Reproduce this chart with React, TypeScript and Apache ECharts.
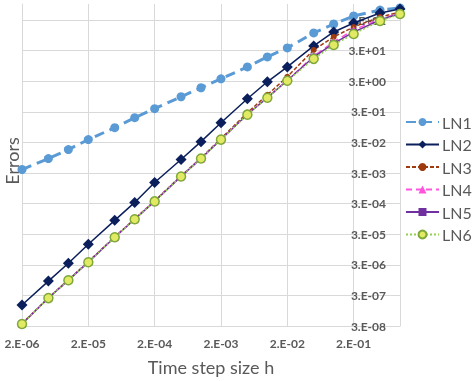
import React, { useEffect, useRef } from "react";
import * as echarts from "echarts";

// Time step sizes h
const hValues = [2e-6, 5e-6, 1e-5, 2e-5, 5e-5, 1e-4, 2e-4, 5e-4, 1e-3, 2e-3, 5e-3, 1e-2, 2e-2, 5e-2, 0.1, 0.2, 0.5, 1];

// Errors per series
const LN1 = [3.9e-3, 8.9e-3, 1.75e-2, 3.7e-2, 9.1e-2, 0.193, 0.379, 0.93, 1.83, 3.59, 8.8, 18.7, 36.7, 113, 222, 405, 635, 740];
const LN2 = [1.45e-7, 8.8e-7, 3.38e-6, 1.41e-5, 8.5e-5, 3.28e-4, 1.47e-3, 8.3e-3, 3.18e-2, 0.132, 0.8, 2.87, 8.8, 42.7, 122, 239, 507, 684];
const LN3 = [3.6e-8, 2.5e-7, 9.7e-7, 3.8e-6, 2.45e-5, 9.5e-5, 3.7e-4, 2.4e-3, 9.3e-3, 4.0e-2, 0.28, 1.08, 4.2, 31.6, 84, 177, 376, 546];
const LN4 = [3.5e-8, 2.47e-7, 9.5e-7, 3.7e-6, 2.4e-5, 9.3e-5, 3.58e-4, 2.34e-3, 9.0e-3, 3.75e-2, 0.25, 0.88, 3.2, 20, 58, 142, 323, 507];
const LN5 = [3.49e-8, 2.46e-7, 9.45e-7, 3.66e-6, 2.39e-5, 9.25e-5, 3.56e-4, 2.32e-3, 8.95e-3, 3.72e-2, 0.245, 0.87, 3.15, 18.5, 52, 120, 300, 490];
const LN6 = [3.48e-8, 2.45e-7, 9.4e-7, 3.65e-6, 2.38e-5, 9.2e-5, 3.54e-4, 2.31e-3, 8.9e-3, 3.7e-2, 0.242, 0.863, 3.09, 16.1, 46, 105, 278, 470];

// Axis extents (log axes, drawn as decades from the first tick)
const H_FIRST_TICK = 2e-6;
const H_MAX = 1;
const E_FIRST_TICK = 3e-8;
const E_MAX = 1000;

const FONT = "Lato, 'Open Sans', sans-serif";

const toX = (h: number) => Math.log10(h / H_FIRST_TICK);
const toY = (e: number) => Math.log10(e / E_FIRST_TICK);

const fmtExp = (mant: string, offset: number) => (v: number) => {
  const r = Math.round(v);
  if (Math.abs(v - r) > 1e-6) return "";
  const e = r + offset;
  return mant + ".E" + (e < 0 ? "-" : "+") + String(Math.abs(e)).padStart(2, "0");
};

const mk = (vals: number[]) => hValues.map((h, i) => [toX(h), toY(vals[i])]);

export default function App() {
  const ref = useRef<HTMLDivElement>(null);
  useEffect(() => {
    if (!ref.current) return;
    const chart = echarts.init(ref.current, null, { renderer: "svg" });
    const grid = "#D9D9D9";
    chart.setOption({
      animation: false,
      grid: { left: 22, right: 74, top: 4, bottom: 54 },
      xAxis: {
        type: "value",
        min: 0,
        max: toX(H_MAX),
        interval: 1,
        name: "Time step size h",
        nameLocation: "middle",
        nameGap: 32,
        nameTextStyle: { fontSize: 18, color: "#595959", fontFamily: FONT },
        axisLine: { show: true, lineStyle: { color: grid } },
        axisTick: { show: false },
        axisLabel: {
          formatter: fmtExp("2", -6),
          fontSize: 12,
          fontWeight: "bold",
          color: "#595959",
          fontFamily: FONT,
          margin: 11,
          showMaxLabel: false,
        },
        splitLine: { show: true, lineStyle: { color: grid, width: 1 } },
      },
      yAxis: {
        type: "value",
        position: "right",
        min: 0,
        max: toY(E_MAX),
        interval: 1,
        axisLine: { show: true, lineStyle: { color: grid } },
        axisTick: { show: false },
        axisLabel: {
          inside: true,
          formatter: fmtExp("3", -8),
          fontSize: 12,
          fontWeight: "bold",
          color: "#595959",
          fontFamily: FONT,
          margin: 14,
          showMaxLabel: false,
        },
        splitLine: { show: true, showMaxLine: false, lineStyle: { color: grid, width: 1 } },
      },
      legend: {
        orient: "vertical",
        left: 405,
        top: 114,
        padding: 0,
        itemWidth: 33,
        itemHeight: 10,
        itemGap: 6.5,
        textStyle: { fontSize: 16, color: "#595959", fontFamily: FONT, padding: [0, 0, 0, -2] },
        data: ["LN1", "LN2", "LN3", "LN4", "LN5", "LN6"],
      },
      graphic: [
        {
          type: "text",
          x: 12,
          y: 161,
          rotation: Math.PI / 2,
          style: {
            text: "Errors",
            fontSize: 18,
            fill: "#595959",
            fontFamily: FONT,
            align: "center",
            verticalAlign: "middle",
          },
        },
      ],
      series: [
        {
          name: "LN1",
          type: "line",
          data: mk(LN1),
          symbol: "circle",
          symbolSize: 9,
          lineStyle: { color: "#5B9BD5", width: 3, type: [10, 6] },
          itemStyle: { color: "#5B9BD5" },
        },
        {
          name: "LN2",
          type: "line",
          data: mk(LN2),
          symbol: "diamond",
          symbolSize: 11,
          lineStyle: { color: "#0A1F5C", width: 1.5 },
          itemStyle: { color: "#0A1F5C" },
        },
        {
          name: "LN3",
          type: "line",
          data: mk(LN3),
          symbol: "circle",
          symbolSize: 6,
          lineStyle: { color: "#9E3A0E", width: 1.5, type: [4, 2] },
          itemStyle: { color: "#9E3A0E" },
        },
        {
          name: "LN4",
          type: "line",
          data: mk(LN4),
          symbol: "triangle",
          symbolSize: 8,
          lineStyle: { color: "#FF55DD", width: 1.5, type: [6, 4] },
          itemStyle: { color: "#FF55DD" },
        },
        {
          name: "LN5",
          type: "line",
          data: mk(LN5),
          symbol: "rect",
          symbolSize: 7,
          lineStyle: { color: "#7030A0", width: 1.5 },
          itemStyle: { color: "#7030A0" },
        },
        {
          name: "LN6",
          type: "line",
          data: mk(LN6),
          symbol: "circle",
          symbolSize: 9,
          lineStyle: { color: "#92D050", width: 1.5, type: [2, 2] },
          itemStyle: { color: "#E2EA63", borderColor: "#7EA83A", borderWidth: 1.5 },
        },
      ],
    });
    return () => chart.dispose();
  }, []);
  return <div ref={ref} style={{ width: 474, height: 381, position: "fixed", left: 0, top: 0 }} />;
}
